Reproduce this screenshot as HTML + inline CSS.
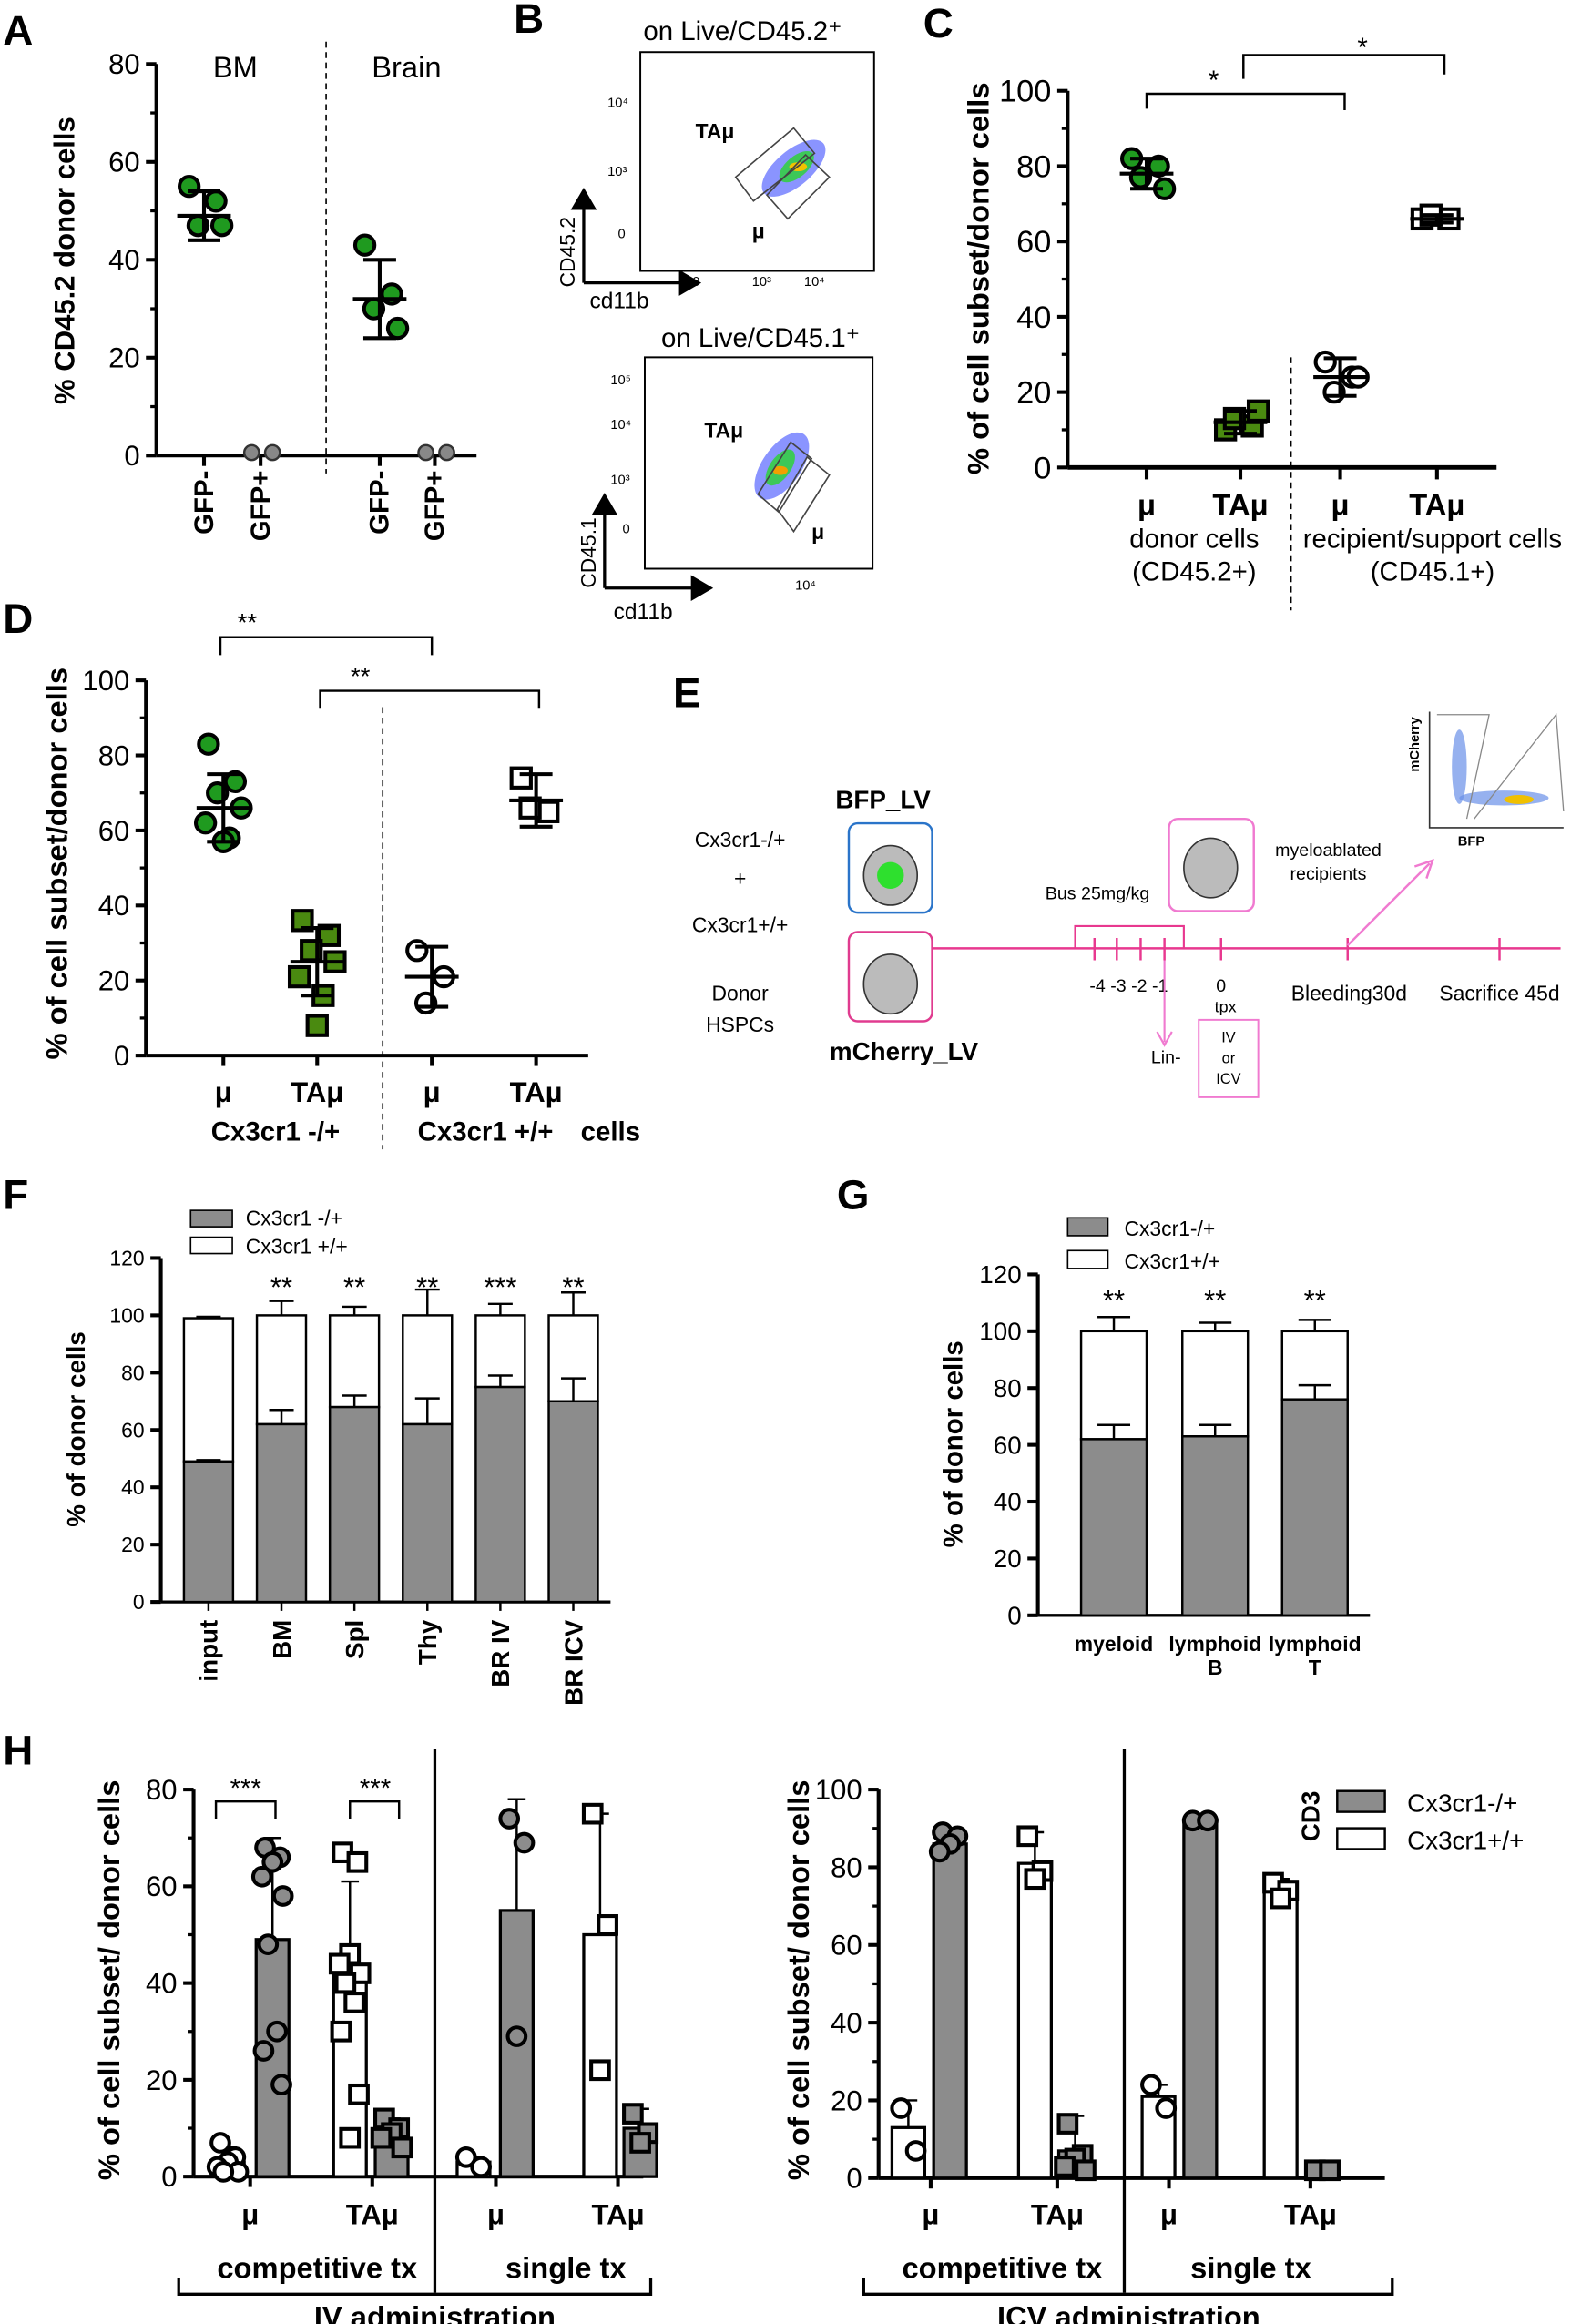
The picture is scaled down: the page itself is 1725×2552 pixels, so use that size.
<!DOCTYPE html>
<html><head><meta charset="utf-8">
<style>
html,body{margin:0;padding:0;background:#fff;}
svg{display:block;font-family:"Liberation Sans",sans-serif;}
</style></head>
<body>
<svg id="fig" width="1725" height="2552" viewBox="0 0 1055 1561" preserveAspectRatio="none" xmlns="http://www.w3.org/2000/svg">
<rect x="0" y="0" width="1055" height="1561" fill="#fff"/>
<g font-weight="bold" font-size="28">
<text x="2" y="30">A</text>
<text x="345" y="22">B</text>
<text x="620" y="25">C</text>
<text x="2" y="425">D</text>
<text x="452" y="475">E</text>
<text x="2" y="812">F</text>
<text x="562" y="812">G</text>
<text x="2" y="1185">H</text>
</g>

<g id="panelB" font-size="9">
<text x="432" y="27" font-size="18">on Live/CD45.2⁺</text>
<rect x="430" y="35" width="157" height="147" fill="none" stroke="#000" stroke-width="1.2"/>
<text x="408" y="72">10⁴</text>
<text x="408" y="118">10³</text>
<text x="415" y="160">0</text>
<text x="465" y="192">0</text>
<text x="505" y="192">10³</text>
<text x="540" y="192">10⁴</text>
<ellipse cx="533" cy="113" rx="26" ry="12" transform="rotate(-40 533 113)" fill="#2a3cff" opacity="0.55"/>
<ellipse cx="535" cy="112" rx="14" ry="7" transform="rotate(-40 535 112)" fill="#29d42e" opacity="0.8"/>
<ellipse cx="536" cy="112" rx="6" ry="3" fill="#f2c200"/>
<polygon points="494,119 533,86 547,103 506,135" fill="none" stroke="#444" stroke-width="1"/>
<polygon points="515,131 541,104 557,119 529,147" fill="none" stroke="#444" stroke-width="1"/>
<text x="467" y="93" font-size="14" font-weight="bold">TAμ</text>
<text x="505" y="160" font-size="14" font-weight="bold">μ</text>
<path d="M392,190 V135 M385,140 L392,128 L399,140 Z M392,190 H462 M457,183 L469,190 L457,197 Z" stroke="#000" stroke-width="2" fill="#000"/>
<text x="386" y="193" font-size="14" transform="rotate(-90 386 193)">CD45.2</text>
<text x="396" y="207" font-size="15">cd11b</text>

<text x="444" y="233" font-size="18">on Live/CD45.1⁺</text>
<rect x="433" y="240" width="153" height="142" fill="none" stroke="#000" stroke-width="1.2"/>
<text x="410" y="258">10⁵</text>
<text x="410" y="288">10⁴</text>
<text x="410" y="325">10³</text>
<text x="418" y="358">0</text>
<text x="534" y="396">10⁴</text>
<ellipse cx="525" cy="313" rx="26" ry="13" transform="rotate(-55 525 313)" fill="#2a3cff" opacity="0.55"/>
<ellipse cx="524" cy="314" rx="14" ry="7" transform="rotate(-55 524 314)" fill="#29d42e" opacity="0.8"/>
<ellipse cx="524" cy="316" rx="5" ry="3" fill="#f2a000"/>
<polygon points="509,332 531,297 545,308 523,344" fill="none" stroke="#444" stroke-width="1"/>
<polygon points="522,342 542,307 557,319 533,357" fill="none" stroke="#444" stroke-width="1"/>
<text x="473" y="294" font-size="14" font-weight="bold">TAμ</text>
<text x="545" y="362" font-size="14" font-weight="bold">μ</text>
<path d="M406,395 V340 M399,345 L406,333 L413,345 Z M406,395 H470 M465,388 L477,395 L465,402 Z" stroke="#000" stroke-width="2" fill="#000"/>
<text x="400" y="395" font-size="14" transform="rotate(-90 400 395)">CD45.1</text>
<text x="412" y="416" font-size="15">cd11b</text>
</g>

<g id="panelE" font-size="14">
<text x="593" y="543" text-anchor="middle" font-size="17" font-weight="bold">BFP_LV</text>
<text x="497" y="569" text-anchor="middle">Cx3cr1-/+</text>
<text x="497" y="595" text-anchor="middle">+</text>
<text x="497" y="626" text-anchor="middle">Cx3cr1+/+</text>
<text x="497" y="672" text-anchor="middle">Donor</text>
<text x="497" y="693" text-anchor="middle">HSPCs</text>
<text x="607" y="712" text-anchor="middle" font-size="17" font-weight="bold">mCherry_LV</text>
<rect x="570" y="553" width="56" height="60" rx="6" fill="none" stroke="#2a74c9" stroke-width="1.5"/>
<ellipse cx="598" cy="588" rx="18" ry="20" fill="#bbb" stroke="#333"/>
<circle cx="598" cy="588" r="9" fill="#2ee02e"/>
<rect x="570" y="626" width="56" height="60" rx="6" fill="none" stroke="#e03b8f" stroke-width="1.5"/>
<ellipse cx="598" cy="661" rx="18" ry="20" fill="#bbb" stroke="#333"/>
<rect x="785" y="550" width="57" height="62" rx="6" fill="none" stroke="#f07ad0" stroke-width="1.5"/>
<ellipse cx="813" cy="583" rx="18" ry="20" fill="#bbb" stroke="#333"/>
<line x1="626" y1="637" x2="1048" y2="637" stroke="#e8388f" stroke-width="1.5"/>
<path d="M735,630V645 M750,630V645 M766,630V645 M782,630V645 M820,630V645 M905,630V645 M1007,630V645" stroke="#e8388f" stroke-width="1.5"/>
<path d="M722,637 V622 H795 V637" fill="none" stroke="#e8388f" stroke-width="1.3"/>
<text x="737" y="604" text-anchor="middle" font-size="12">Bus 25mg/kg</text>
<text x="758" y="666" text-anchor="middle" font-size="12">-4  -3  -2  -1</text>
<text x="820" y="666" text-anchor="middle" font-size="12">0</text>
<text x="823" y="680" text-anchor="middle" font-size="11">tpx</text>
<path d="M782,645 V700 M777,693 L782,702 L787,693" fill="none" stroke="#f07ad0" stroke-width="1.3"/>
<text x="783" y="714" text-anchor="middle" font-size="12">Lin-</text>
<rect x="805" y="685" width="40" height="52" fill="none" stroke="#f07ad0" stroke-width="1.2"/>
<text x="825" y="700" text-anchor="middle" font-size="10">IV</text>
<text x="825" y="714" text-anchor="middle" font-size="10">or</text>
<text x="825" y="728" text-anchor="middle" font-size="10">ICV</text>
<text x="892" y="575" text-anchor="middle" font-size="12">myeloablated</text>
<text x="892" y="591" text-anchor="middle" font-size="12">recipients</text>
<text x="906" y="672" text-anchor="middle">Bleeding30d</text>
<text x="1007" y="672" text-anchor="middle">Sacrifice 45d</text>
<path d="M905,635 L960,580 M950,582 L962,578 L958,590" fill="none" stroke="#f07ad0" stroke-width="1.5"/>
<g>
<path d="M960,478 V556 H1050" fill="none" stroke="#333" stroke-width="1"/>
<ellipse cx="980" cy="515" rx="5" ry="25" fill="#6a90e8" opacity="0.7"/>
<ellipse cx="1010" cy="536" rx="30" ry="5" fill="#6a90e8" opacity="0.7"/>
<ellipse cx="1020" cy="537" rx="10" ry="3" fill="#f0c000"/>
<path d="M965,480 L1000,480 L985,550 M990,550 L1045,480 L1050,545" fill="none" stroke="#888" stroke-width="0.8"/>
<text x="953" y="500" font-size="9" font-weight="bold" transform="rotate(-90 953 500)" text-anchor="middle">mCherry</text>
<text x="988" y="568" font-size="9" font-weight="bold" text-anchor="middle">BFP</text>
</g>
</g>

<g id="charts"></g>
</svg>
<script>
// Panel A
const aCats = ['GFP-','GFP+','GFP-','GFP+'];
const aPoints = [[55,52,47,47],[0,0],[43,33,30,26],[0,0]];
const aMean = [49,0,32,0];
const aSd = [5,0,8,0];
const aTicks = [0,20,40,60,80];
// Panel C
const cCats = ['μ','TAμ','μ','TAμ'];
const cPoints = [[82,80,77,74],[10,11,13,15],[28,24,20,24],[66,66,67]];
const cMean = [78,12,24,66];
const cSd = [4,3,5,1];
const cTicks = [0,20,40,60,80,100];
// Panel D
const dCats = ['μ','TAμ','μ','TAμ'];
const dPoints = [[83,73,70,66,62,58,57],[36,32,28,25,21,16,8],[28,21,14],[74,65,66]];
const dMean = [66,25,21,68];
const dSd = [9,9,8,7];
const dTicks = [0,20,40,60,80,100];
// Panel F
const fCats = ['input','BM','Spl','Thy','BR IV','BR ICV'];
const fHet = [49,62,68,62,75,70];
const fHetErr = [0.5,5,4,9,4,8];
const fTotal = [99,100,100,100,100,100];
const fTotalErr = [0.5,5,3,9,4,8];
const fStars = ['','**','**','**','***','**'];
const fTicks = [0,20,40,60,80,100,120];
// Panel G
const gCats = [['myeloid'],['lymphoid','B'],['lymphoid','T']];
const gHet = [62,63,76];
const gHetErr = [5,4,5];
const gTotal = [100,100,100];
const gTotalErr = [5,3,4];
const gStars = ['**','**','**'];
const gTicks = [0,20,40,60,80,100,120];
// Panel H left (IV)
const hlBars = [3,49,42,9,3,55,50,10];
const hlErr = [3,21,19,3,1,23,25,4];
const hlPoints = [[7,4,3,2,1,1],[68,66,65,62,58,48,30,26,19],[67,65,46,44,42,40,36,30,17,8],[12,10,9,8,6],[4,2],[74,69,29],[75,52,22],[13,9,7]];
const hlTicks = [0,20,40,60,80];
// Panel H right (ICV)
const hrBars = [13,86,81,7,21,92,74,2];
const hrErr = [7,3,8,9,3,0.5,3,0.5];
const hrPoints = [[18,7],[89,88,86,84],[88,79,77],[14,6,5,3,2],[24,18],[92,92],[76,74,72],[2,2]];
const hrTicks = [0,20,40,60,80,100];
const hCats = ['μ','TAμ','μ','TAμ'];

const NS='http://www.w3.org/2000/svg';
const root=document.getElementById('charts');
function mk(tag,attrs,parent,name){
  const e=document.createElementNS(NS,tag);
  for(const k in attrs) e.setAttribute(k,attrs[k]);
  
  
  (parent||root).appendChild(e);
  return e;
}
function tx(x,y,s,size,parent,name,extra){
  const a=Object.assign({x:x,y:y,'font-size':size,'text-anchor':'middle'},extra||{});
  const t=mk('text',a,parent,name);
  t.textContent=s;
  return t;
}
function scale(y0,yTop,max){return v=>y0-v*(y0-yTop)/max;}
function yAxis(g,x,ys,ticks,size,name,minor){
  mk('line',{x1:x,y1:ys(0),x2:x,y2:ys(ticks[ticks.length-1]),stroke:'#000','stroke-width':2.5},g,name+'-line');
  ticks.forEach((t,i)=>{
    mk('line',{x1:x-7,y1:ys(t),x2:x,y2:ys(t),stroke:'#000','stroke-width':2.5},g,name+'-tick');
    tx(x-11,ys(t)+size*0.35,String(t),size,g,name+'-label',{'text-anchor':'end'});
    if(minor&&i<ticks.length-1){const m=(t+ticks[i+1])/2;mk('line',{x1:x-4,y1:ys(m),x2:x,y2:ys(m),stroke:'#000','stroke-width':2},g,name+'-minor-tick');}
  });
}
const jit=[-10,8,-4,12,-12,4,0,-8,10,-2];
function marker(g,x,y,shape,fill,r,name){
  if(shape==='c') return mk('circle',{cx:x,cy:y,r:r,fill:fill,stroke:'#000','stroke-width':2.5},g,name);
  return mk('rect',{x:x-r,y:y-r,width:2*r,height:2*r,fill:fill,stroke:'#000','stroke-width':2.5},g,name);
}
function dotGroup(g,xc,pts,mean,sd,ys,shape,fill,name){
  pts.forEach((v,i)=>marker(g,xc+jit[i%jit.length],ys(v),shape,fill,6.5,name+'-point'));
  if(sd>0){
    mk('line',{x1:xc,y1:ys(mean-sd),x2:xc,y2:ys(mean+sd),stroke:'#000','stroke-width':2.5},g,name+'-sd');
    mk('line',{x1:xc-11,y1:ys(mean-sd),x2:xc+11,y2:ys(mean-sd),stroke:'#000','stroke-width':2.5},g,name+'-sd-cap');
    mk('line',{x1:xc-11,y1:ys(mean+sd),x2:xc+11,y2:ys(mean+sd),stroke:'#000','stroke-width':2.5},g,name+'-sd-cap');
  }
  mk('line',{x1:xc-18,y1:ys(mean),x2:xc+18,y2:ys(mean),stroke:'#000','stroke-width':2.5},g,name+'-mean');
}
function vtext(x,y,s,size,g,name,bold){
  return tx(x,y,s,size,g,name,{transform:'rotate(-90 '+x+' '+y+')','font-weight':bold?'bold':'normal'});
}

(function(){
  const g=mk('g',{},root,'panel-a-chart');
  const ys=scale(306,43,80);
  yAxis(g,105,ys,aTicks,19,'panel-a-y-axis',true);
  mk('line',{x1:105,y1:306,x2:320,y2:306,stroke:'#000','stroke-width':2.5},g,'panel-a-x-axis');
  mk('line',{x1:219,y1:28,x2:219,y2:318,stroke:'#000','stroke-width':1,'stroke-dasharray':'4,3'},g,'panel-a-divider');
  tx(158,52,'BM',20,g,'bm-label');
  tx(273,52,'Brain',20,g,'brain-label');
  vtext(50,175,'% CD45.2 donor cells',19,g,'panel-a-y-title',true);
  const xs=[137,175,255,292];
  aCats.forEach((c,i)=>{
    mk('line',{x1:xs[i],y1:306,x2:xs[i],y2:313,stroke:'#000','stroke-width':2.5},g,'panel-a-x-tick');
    vtext(xs[i]+6,316,c,18,g,'panel-a-x-label',true).setAttribute('text-anchor','end');
    if(aMean[i]>0) dotGroup(g,xs[i],aPoints[i],aMean[i],aSd[i],ys,'c','#1f9a1f','panel-a-'+i);
    else aPoints[i].forEach((v,j)=>mk('circle',{cx:xs[i]-6+j*14,cy:ys(v)-2,r:5,fill:'#888',stroke:'#333','stroke-width':1.5},g,'panel-a-gfp-pos-point'));
  });
})();

(function(){
  const g=mk('g',{},root,'panel-c-chart');
  const ys=scale(314,61,100);
  yAxis(g,717,ys,cTicks,21,'panel-c-y-axis',true);
  mk('line',{x1:717,y1:314,x2:1005,y2:314,stroke:'#000','stroke-width':3},g,'panel-c-x-axis');
  mk('line',{x1:867,y1:240,x2:867,y2:410,stroke:'#000','stroke-width':1,'stroke-dasharray':'4,3'},g,'panel-c-divider');
  vtext(664,187,'% of cell subset/donor cells',20,g,'panel-c-y-title',true);
  const xs=[770,833,900,965];
  const fills=['#1f9a1f','#4a8a10','#fff','#fff'];
  const shapes=['c','s','c','s'];
  cCats.forEach((c,i)=>{
    mk('line',{x1:xs[i],y1:314,x2:xs[i],y2:322,stroke:'#000','stroke-width':2.5},g,'panel-c-x-tick');
    tx(xs[i],346,c,20,g,'panel-c-x-label',{'font-weight':'bold'});
    dotGroup(g,xs[i],cPoints[i],cMean[i],cSd[i],ys,shapes[i],fills[i],'panel-c-'+i);
  });
  tx(802,368,'donor cells',18,g,'panel-c-group-label');
  tx(802,390,'(CD45.2+)',18,g,'panel-c-group-label');
  tx(962,368,'recipient/support cells',18,g,'panel-c-group-label');
  tx(962,390,'(CD45.1+)',18,g,'panel-c-group-label');
  mk('path',{d:'M770,73 V63 H903 V74',fill:'none',stroke:'#000','stroke-width':1.5},g,'panel-c-bracket');
  tx(815,60,'*',18,g,'panel-c-star');
  mk('path',{d:'M835,53 V37 H970 V50',fill:'none',stroke:'#000','stroke-width':1.5},g,'panel-c-bracket');
  tx(915,38,'*',18,g,'panel-c-star');
})();

(function(){
  const g=mk('g',{},root,'panel-d-chart');
  const ys=scale(709,457,100);
  yAxis(g,98,ys,dTicks,19,'panel-d-y-axis',true);
  mk('line',{x1:98,y1:709,x2:395,y2:709,stroke:'#000','stroke-width':2.5},g,'panel-d-x-axis');
  mk('line',{x1:257,y1:475,x2:257,y2:772,stroke:'#000','stroke-width':1,'stroke-dasharray':'4,3'},g,'panel-d-divider');
  vtext(45,580,'% of cell subset/donor cells',20,g,'panel-d-y-title',true);
  const xs=[150,213,290,360];
  const fills=['#1f9a1f','#4a8a10','#fff','#fff'];
  const shapes=['c','s','c','s'];
  dCats.forEach((c,i)=>{
    mk('line',{x1:xs[i],y1:709,x2:xs[i],y2:716,stroke:'#000','stroke-width':2.5},g,'panel-d-x-tick');
    tx(xs[i],740,c,19,g,'panel-d-x-label',{'font-weight':'bold'});
    dotGroup(g,xs[i],dPoints[i],dMean[i],dSd[i],ys,shapes[i],fills[i],'panel-d-'+i);
  });
  tx(185,766,'Cx3cr1 -/+',18,g,'panel-d-group-label',{'font-weight':'bold'});
  tx(326,766,'Cx3cr1 +/+',18,g,'panel-d-group-label',{'font-weight':'bold'});
  tx(410,766,'cells',18,g,'panel-d-cells-label',{'font-weight':'bold'});
  mk('path',{d:'M148,440 V428 H290 V440',fill:'none',stroke:'#000','stroke-width':1.5},g,'panel-d-bracket');
  tx(166,424,'**',17,g,'panel-d-star');
  mk('path',{d:'M215,476 V464 H362 V476',fill:'none',stroke:'#000','stroke-width':1.5},g,'panel-d-bracket');
  tx(242,460,'**',17,g,'panel-d-star');
})();

function stacked(g,prefix,xs,w,ys,het,hetErr,tot,totErr,stars,starY){
  xs.forEach((x,i)=>{
    mk('rect',{x:x-w/2,y:ys(tot[i]),width:w,height:ys(het[i])-ys(tot[i]),fill:'#fff',stroke:'#000','stroke-width':1.5},g,prefix+'-bar-wt');
    mk('rect',{x:x-w/2,y:ys(het[i]),width:w,height:ys(0)-ys(het[i]),fill:'#8c8c8c',stroke:'#000','stroke-width':1.5},g,prefix+'-bar-het');
    [[het[i],hetErr[i]],[tot[i],totErr[i]]].forEach(p=>{
      mk('path',{d:'M'+x+','+ys(p[0])+' V'+ys(p[0]+p[1])+' M'+(x-w/4)+','+ys(p[0]+p[1])+' H'+(x+w/4),fill:'none',stroke:'#000','stroke-width':1.5},g,prefix+'-error-bar');
    });
    if(stars[i]) tx(x,starY,stars[i],19,g,prefix+'-star');
  });
}
(function(){
  const g=mk('g',{},root,'panel-f-chart');
  const ys=scale(1076,845,120);
  yAxis(g,108,ys,fTicks,14,'panel-f-y-axis',false);
  mk('line',{x1:108,y1:1076,x2:410,y2:1076,stroke:'#000','stroke-width':2},g,'panel-f-x-axis');
  const xs=[140,189,238,287,336,385];
  stacked(g,'panel-f',xs,33,ys,fHet,fHetErr,fTotal,fTotalErr,fStars,871);
  fCats.forEach((c,i)=>{
    mk('line',{x1:xs[i],y1:1076,x2:xs[i],y2:1082,stroke:'#000','stroke-width':1.5},g,'panel-f-x-tick');
    vtext(xs[i]+6,1088,c,17,g,'panel-f-x-label',true).setAttribute('text-anchor','end');
  });
  vtext(57,960,'% of donor cells',17,g,'panel-f-y-title',true);
  mk('rect',{x:128,y:813,width:28,height:11,fill:'#8c8c8c',stroke:'#000'},g,'panel-f-legend-swatch-het');
  tx(165,823,'Cx3cr1 -/+',14,g,'panel-f-legend-label',{'text-anchor':'start'});
  mk('rect',{x:128,y:831,width:28,height:11,fill:'#fff',stroke:'#000'},g,'panel-f-legend-swatch-wt');
  tx(165,842,'Cx3cr1 +/+',14,g,'panel-f-legend-label',{'text-anchor':'start'});
})();
(function(){
  const g=mk('g',{},root,'panel-g-chart');
  const ys=scale(1085,856,120);
  yAxis(g,697,ys,gTicks,17,'panel-g-y-axis',false);
  mk('line',{x1:697,y1:1085,x2:920,y2:1085,stroke:'#000','stroke-width':2},g,'panel-g-x-axis');
  const xs=[748,816,883];
  stacked(g,'panel-g',xs,44,ys,gHet,gHetErr,gTotal,gTotalErr,gStars,880);
  gCats.forEach((c,i)=>{
    c.forEach((line,j)=>tx(xs[i],1109+j*16,line,14,g,'panel-g-x-label',{'font-weight':'bold'}));
  });
  vtext(646,970,'% of donor cells',18,g,'panel-g-y-title',true);
  mk('rect',{x:717,y:818,width:27,height:12,fill:'#8c8c8c',stroke:'#000'},g,'panel-g-legend-swatch-het');
  tx(755,830,'Cx3cr1-/+',14,g,'panel-g-legend-label',{'text-anchor':'start'});
  mk('rect',{x:717,y:840,width:27,height:12,fill:'#fff',stroke:'#000'},g,'panel-g-legend-swatch-wt');
  tx(755,852,'Cx3cr1+/+',14,g,'panel-g-legend-label',{'text-anchor':'start'});
})();

function hChart(prefix,ax,axEnd,y0,yTop,max,ticks,bars,errs,pts,xs,catXs,div,groupX,adminX,adminLabel){
  const g=mk('g',{},root,prefix+'-chart');
  const ys=scale(y0,yTop,max);
  yAxis(g,ax,ys,ticks,19,prefix+'-y-axis',true);
  mk('line',{x1:ax,y1:y0,x2:axEnd,y2:y0,stroke:'#000','stroke-width':2.5},g,prefix+'-x-axis');
  mk('line',{x1:div,y1:1175,x2:div,y2:1540,stroke:'#000','stroke-width':2},g,prefix+'-divider');
  const w=22;
  bars.forEach((v,i)=>{
    const fill=(i%2===1)?'#8c8c8c':'#fff';
    mk('rect',{x:xs[i]-w/2,y:ys(v),width:w,height:y0-ys(v),fill:fill,stroke:'#000','stroke-width':2},g,prefix+'-bar');
    mk('path',{d:'M'+xs[i]+','+ys(v)+' V'+ys(v+errs[i])+' M'+(xs[i]-6)+','+ys(v+errs[i])+' H'+(xs[i]+6),fill:'none',stroke:'#000','stroke-width':1.5},g,prefix+'-error-bar');
    const shape=(Math.floor(i/2)%2===0)?'c':'s';
    pts[i].forEach((p,j)=>marker(g,xs[i]+[-5,5,0,-7,7,-3,3,-6,6,0][j],ys(p),shape,fill,6,prefix+'-point'));
  });
  catXs.forEach((x,i)=>{
    mk('line',{x1:x,y1:y0,x2:x,y2:y0+7,stroke:'#000','stroke-width':2.5},g,prefix+'-x-tick');
    tx(x,1494,hCats[i],19,g,prefix+'-x-label',{'font-weight':'bold'});
  });
  tx(groupX[0],1530,'competitive tx',20,g,prefix+'-group-label',{'font-weight':'bold'});
  tx(groupX[1],1530,'single tx',20,g,prefix+'-group-label',{'font-weight':'bold'});
  mk('path',{d:'M'+(ax-10)+',1530 V1541 H'+(axEnd+5)+' V1530',fill:'none',stroke:'#000','stroke-width':2},g,prefix+'-admin-bracket');
  tx(adminX,1563,adminLabel,20,g,prefix+'-admin-label',{'font-weight':'bold'});
  return {g:g,ys:ys};
}
(function(){
  const r=hChart('panel-h-left',130,432,1462,1202,80,hlTicks,hlBars,hlErr,hlPoints,
    [153,183,235,263,318,347,403,430],[168,250,333,415],292,[213,380],292,'IV administration');
  vtext(80,1330,'% of cell subset/ donor cells',20,r.g,'panel-h-left-y-title',true);
  mk('path',{d:'M145,1222 V1210 H185 V1222',fill:'none',stroke:'#000','stroke-width':1.5},r.g,'panel-h-bracket');
  tx(165,1207,'***',18,r.g,'panel-h-star');
  mk('path',{d:'M235,1222 V1210 H268 V1222',fill:'none',stroke:'#000','stroke-width':1.5},r.g,'panel-h-bracket');
  tx(252,1207,'***',18,r.g,'panel-h-star');
})();
(function(){
  const r=hChart('panel-h-right',590,930,1463,1202,100,hrTicks,hrBars,hrErr,hrPoints,
    [610,638,695,722,778,806,860,888],[625,710,785,880],755,[673,840],758,'ICV administration');
  vtext(543,1330,'% of cell subset/ donor cells',20,r.g,'panel-h-right-y-title',true);
  vtext(886,1220,'CD3',17,r.g,'panel-h-legend-cd3',true);
  mk('rect',{x:898,y:1203,width:32,height:14,fill:'#8c8c8c',stroke:'#000','stroke-width':1.5},r.g,'panel-h-legend-swatch-het');
  tx(945,1217,'Cx3cr1-/+',17,r.g,'panel-h-legend-label',{'text-anchor':'start'});
  mk('rect',{x:898,y:1228,width:32,height:14,fill:'#fff',stroke:'#000','stroke-width':1.5},r.g,'panel-h-legend-swatch-wt');
  tx(945,1242,'Cx3cr1+/+',17,r.g,'panel-h-legend-label',{'text-anchor':'start'});
})();
</script>
</body></html>
